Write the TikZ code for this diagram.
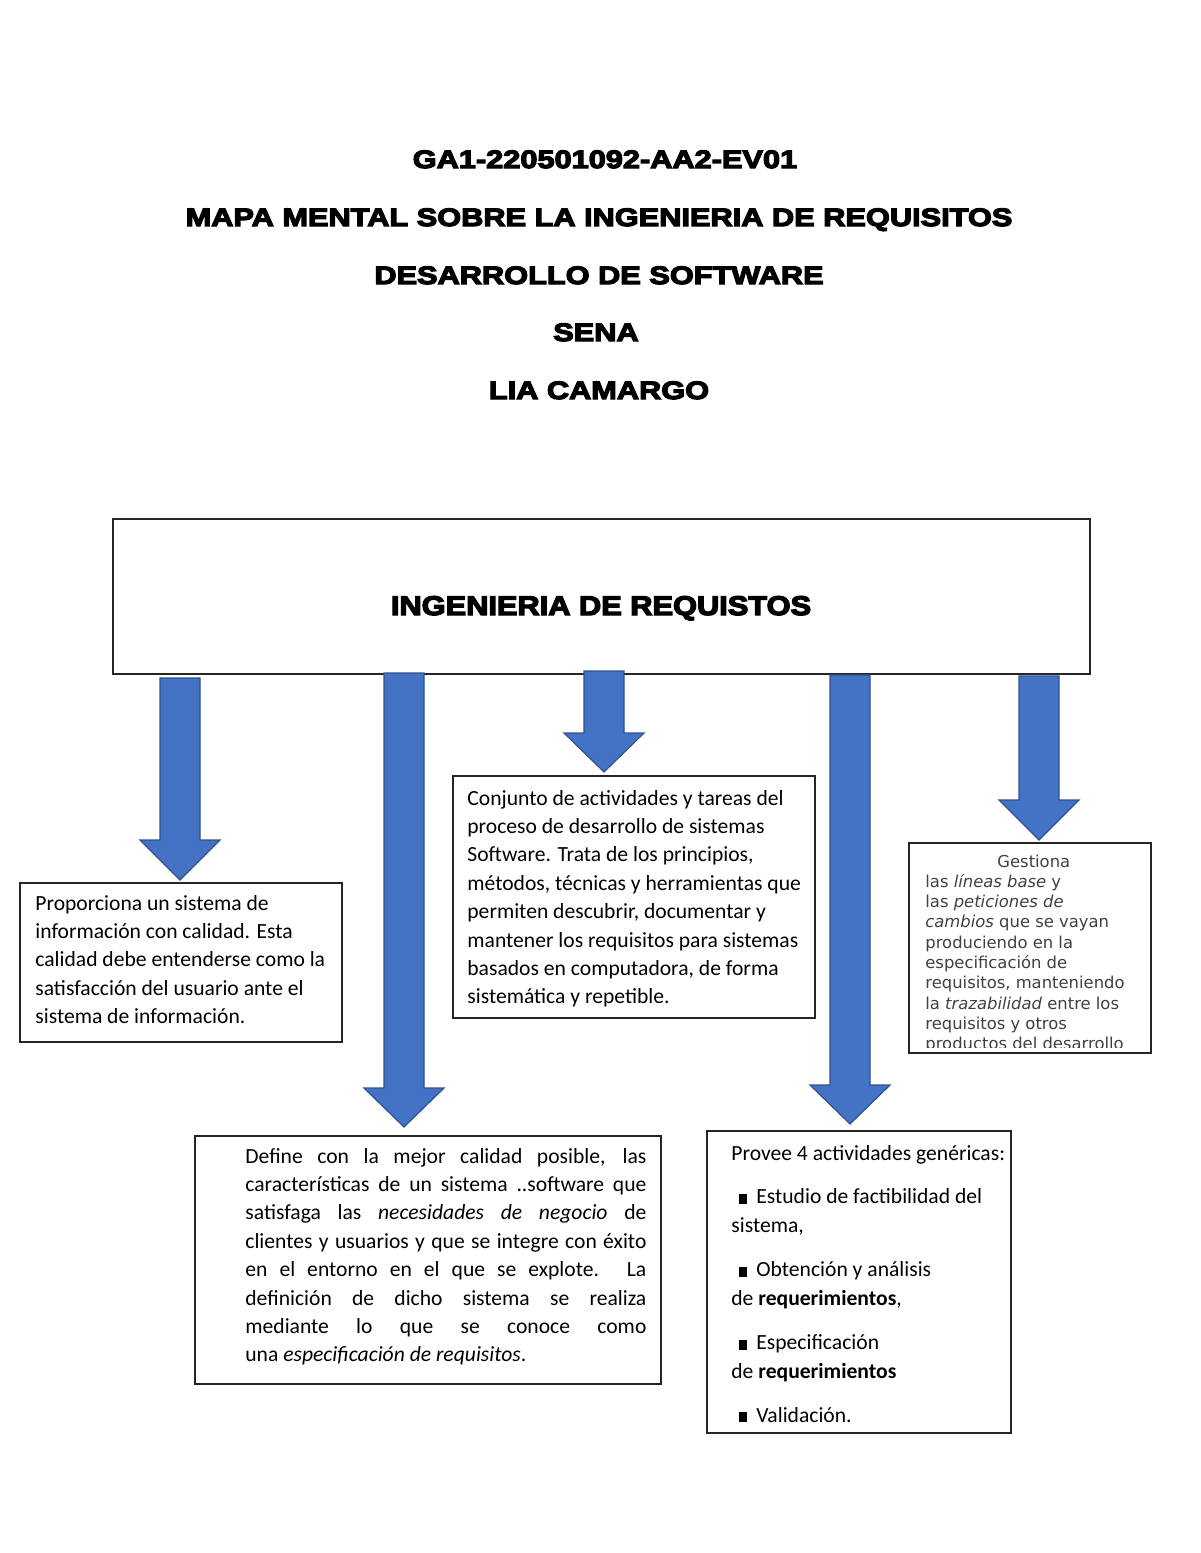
\documentclass[tikz,border=0pt]{standalone}
\usepackage{fontspec}
\setmainfont{Carlito}
\newfontfamily\titlefont[FakeStretch=1.22,FakeBold=5]{Liberation Sans Bold}
\newfontfamily\ingfont[FakeStretch=1.14,FakeBold=5]{Liberation Sans Bold}
\newfontfamily\gestfont{DejaVu Sans}
\definecolor{arrowblue}{HTML}{4472C4}
\definecolor{arrowedge}{HTML}{2F528F}
\tikzset{
  caja/.style={draw=black!85, line width=0.75pt},
  flechabloque/.style={fill=arrowblue, draw=arrowedge, line width=0.6pt, line join=miter},
  texto/.style={anchor=base west, inner sep=0pt},
  titulo/.style={anchor=base, inner sep=0pt, font=\titlefont\fontsize{12.6}{14}\selectfont},
}
% block arrow: x, top, head base, tip
\newcommand{\flecha}[4]{%
  \draw[flechabloque] (#1-20,#2) -- (#1+20,#2) -- (#1+20,#3) -- (#1+40,#3)
    -- (#1,#4) -- (#1-40,#3) -- (#1-20,#3) -- cycle;}
\newcommand{\cuadro}{\hspace*{4pt}\rule{4pt}{5pt}\hspace{4.5pt}}
\newcommand{\cuerpo}{\fontsize{10.8}{14.2}\selectfont}
\begin{document}
\begin{tikzpicture}[x=0.5pt,y=-0.5pt]
  \useasboundingbox (0,0) rectangle (1200,1553);
  % titles
  \node[titulo] (t1) at (605,168) {GA1-220501092-AA2-EV01};
  \node[titulo] (t2) at (599,226) {MAPA MENTAL SOBRE LA INGENIERIA DE REQUISITOS};
  \node[titulo] (t3) at (599,284) {DESARROLLO DE SOFTWARE};
  \node[titulo] (t4) at (596,341) {SENA};
  \node[titulo] (t5) at (599,399) {LIA CAMARGO};
  % main box
  \draw[caja] (113,519) rectangle (1090,674);
  \node[titulo, font=\ingfont\fontsize{13.5}{15}\selectfont] (ing) at (601,615) {INGENIERIA DE REQUISTOS};
  % arrows
  \flecha{180}{678}{840}{880}
  \flecha{404}{673}{1088}{1127}
  \flecha{604}{671}{733}{772}
  \flecha{850}{675}{1085}{1124}
  \flecha{1039}{676}{800}{840}
  % boxes
  \draw[caja] (20,883) rectangle (342,1042);
  \node[texto] (prop) at (35,910) {\parbox[t]{150pt}{\cuerpo
    Proporciona un sistema de\\
    información con calidad. Esta\\
    calidad debe entenderse como la\\
    satisfacción del usuario ante el\\
    sistema de información.}};
  \draw[caja] (453,776) rectangle (815,1018);
  \node[texto] (conj) at (467,805) {\parbox[t]{172pt}{\cuerpo
    Conjunto de actividades y tareas del\\
    proceso de desarrollo de sistemas\\
    Software. Trata de los principios,\\
    métodos, técnicas y herramientas que\\
    permiten descubrir, documentar y\\
    mantener los requisitos para sistemas\\
    basados en computadora, de forma\\
    sistemática y repetible.}};
  \draw[caja] (909,843) rectangle (1151,1053);
  \begin{scope}
    \clip (909,843) rectangle (1151,1047);
    \node[texto, text=black!75] (gest) at (925,867) {\parbox[t]{118pt}{\gestfont\fontsize{8.2}{10.15}\selectfont
      \hspace*{36pt}Gestiona\\
      las \emph{líneas base} y\\
      las \emph{peticiones de}\\
      \emph{cambios} que se vayan\\
      produciendo en la\\
      especificación de\\
      requisitos, manteniendo\\
      la \emph{trazabilidad} entre los\\
      requisitos y otros\\
      productos del desarrollo}};
  \end{scope}
  \draw[caja] (195,1136) rectangle (661,1384);
  \node[texto] (def) at (245,1163) {\parbox[t]{200.5pt}{\cuerpo
    \makebox[\linewidth][s]{Define con la mejor calidad posible, las}\\
    \makebox[\linewidth][s]{características de un sistema ..software que}\\
    \makebox[\linewidth][s]{satisfaga las \emph{necesidades de negocio} de}\\
    \makebox[\linewidth][s]{clientes y usuarios y que se integre con éxito}\\
    \makebox[\linewidth][s]{en el entorno en el que se explote. La}\\
    \makebox[\linewidth][s]{definición de dicho sistema se realiza}\\
    \makebox[\linewidth][s]{mediante lo que se conoce como}\\
    una \emph{especificación de requisitos}.}};
  \draw[caja] (707,1131) rectangle (1011,1433);
  \node[texto] (prov) at (731,1160) {\parbox[t]{140pt}{\fontsize{10.8}{14.45}\selectfont
    Provee 4 actividades genéricas:\\[7.5pt]
    \cuadro Estudio de factibilidad del\\
    sistema,\\[7.5pt]
    \cuadro Obtención y análisis\\
    de \textbf{requerimientos},\\[7.5pt]
    \cuadro Especificación\\
    de \textbf{requerimientos}\\[7.5pt]
    \cuadro Validación.}};
\end{tikzpicture}
\end{document}
